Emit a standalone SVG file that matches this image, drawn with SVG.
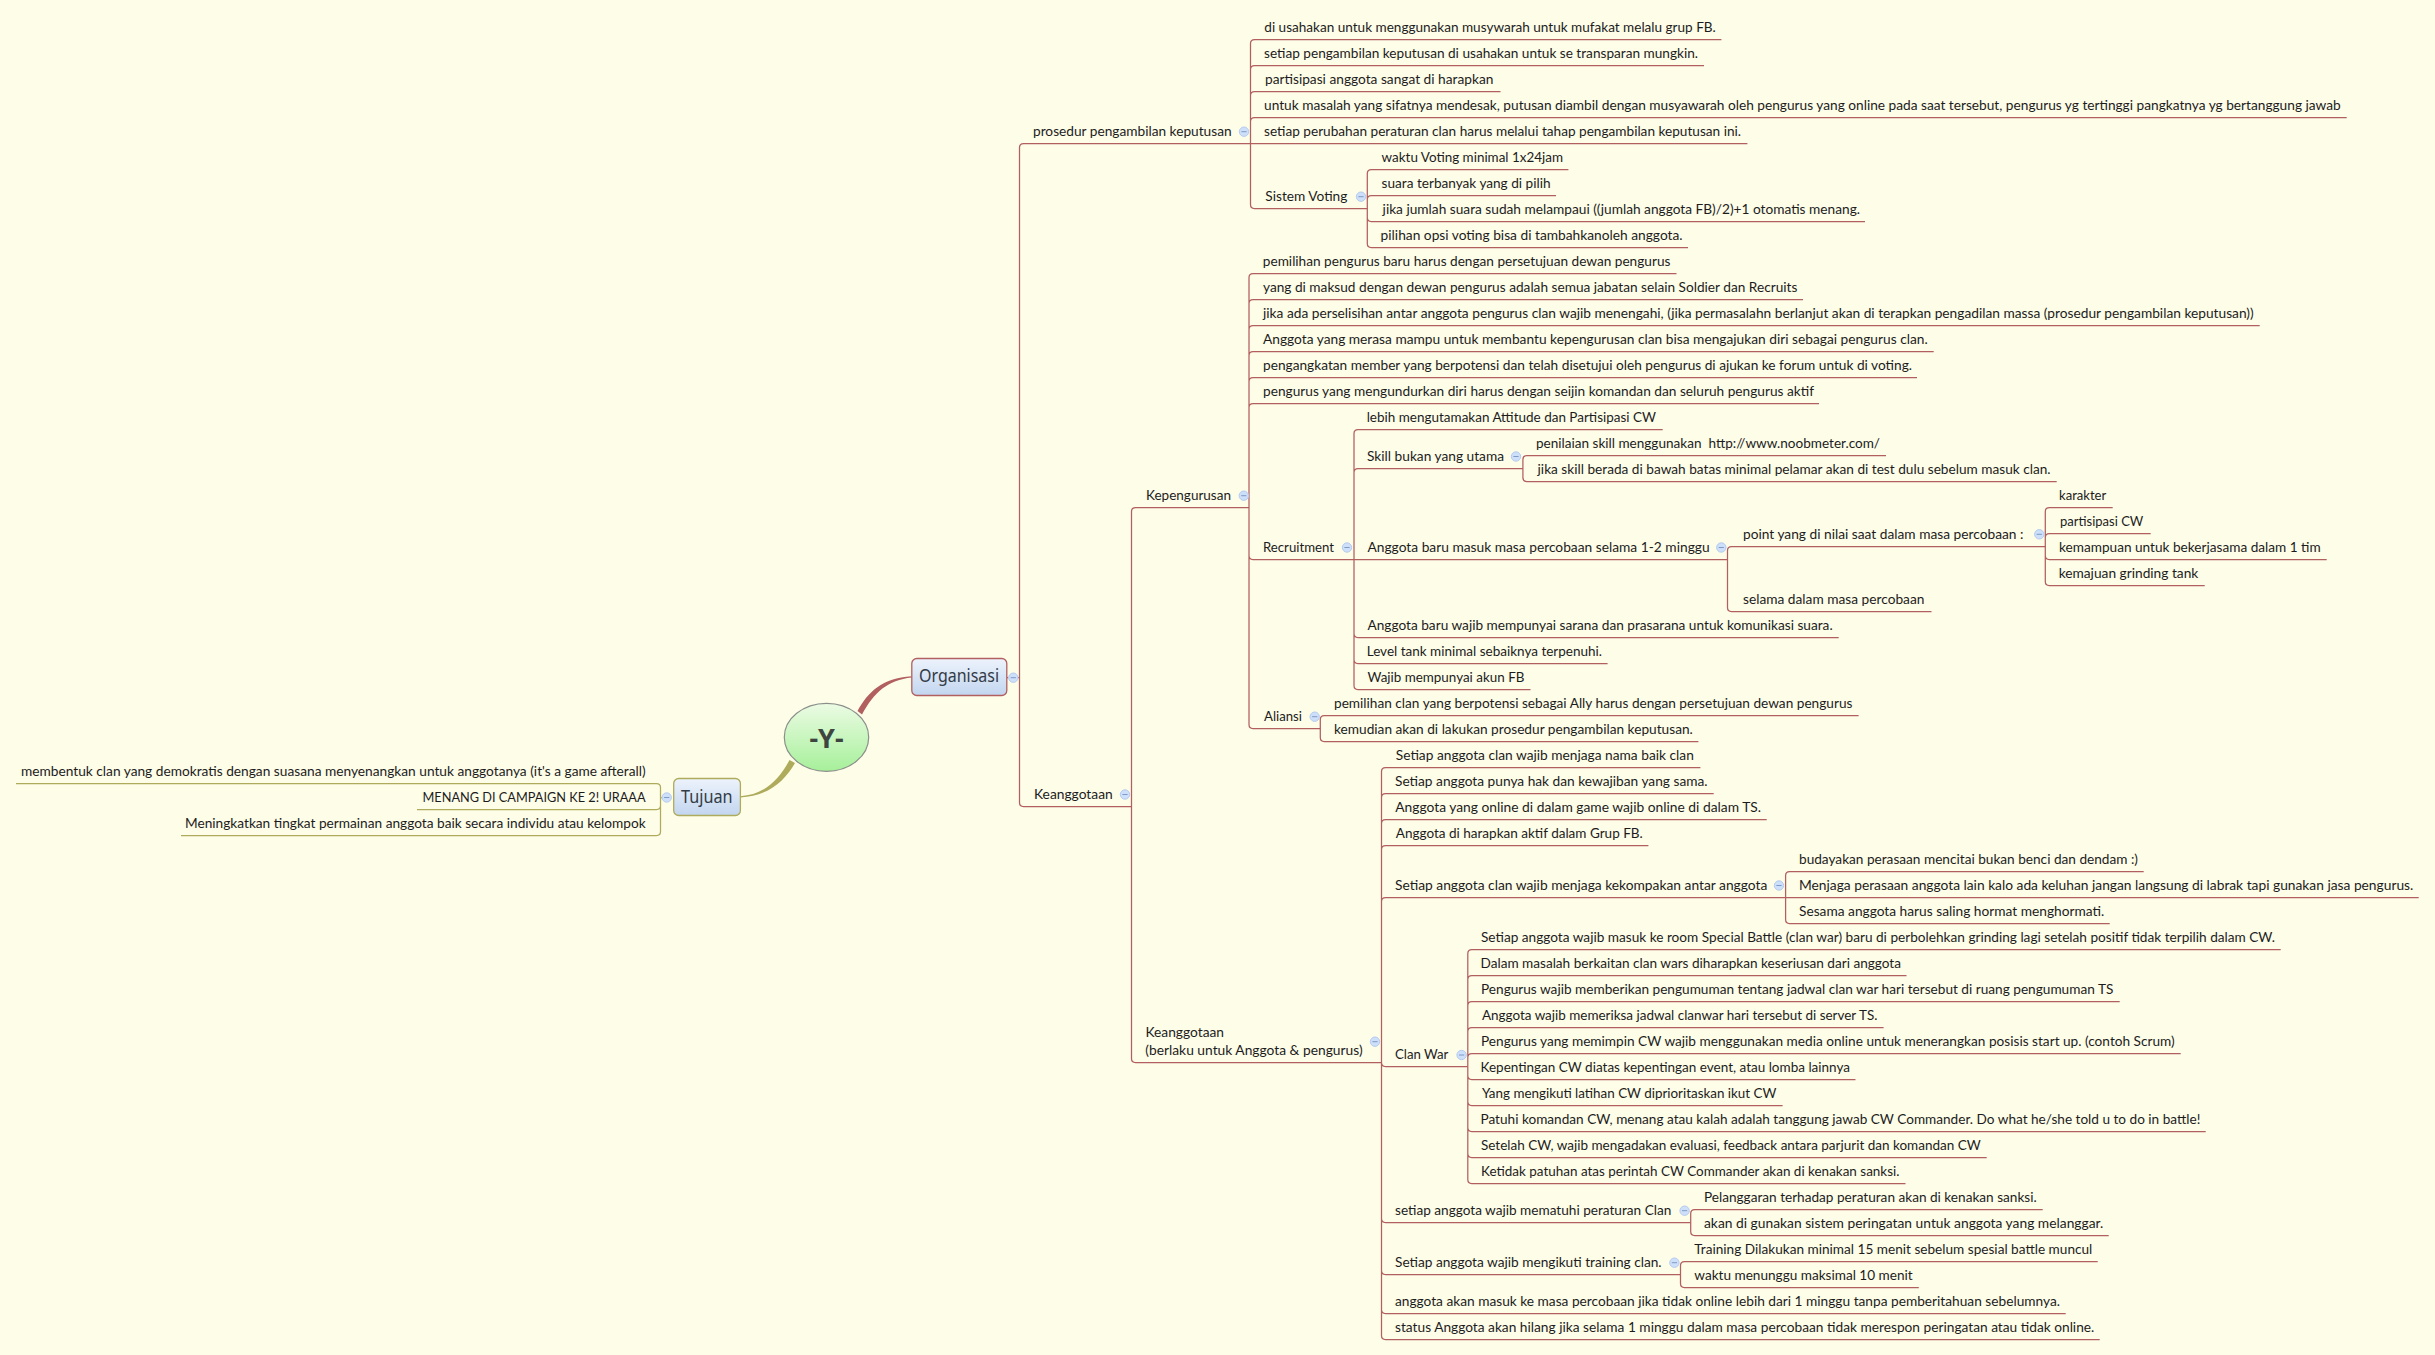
<svg xmlns="http://www.w3.org/2000/svg" width="2435" height="1355" viewBox="0 0 2435 1355">
<style>
text{font-family:Lato,"Noto Sans","Open Sans","Liberation Sans",sans-serif;font-size:13.3px;fill:#1c1c1c;white-space:pre;transform:translateY(.7px)}
.box{stroke-width:1.3}
.h{font-family:"Noto Sans",sans-serif;font-size:18px;fill:#333b45;transform:none}
.root{font-family:"Noto Sans",sans-serif;font-size:27px;font-weight:700;fill:#3e4540;transform:none}
.br{fill:none;stroke:#b25f5f;stroke-width:1.25}
.ol{fill:none;stroke:#aeab5c;stroke-width:1.25}
</style>
<defs>
<linearGradient id="gb" x1="0" y1="0" x2="0" y2="1"><stop offset="0" stop-color="#edf3fc"/><stop offset="1" stop-color="#c2d5ef"/></linearGradient>
<linearGradient id="gg" x1="0" y1="0" x2="0" y2="1"><stop offset="0" stop-color="#ecfbe4"/><stop offset="1" stop-color="#a6f09a"/></linearGradient>
<g id="t"><circle r="4.7" fill="#cddff9" stroke="#b4ccef" stroke-width="1"/><path d="M-2.6,0H2.6" stroke="#7f9ac4" stroke-width="1"/></g>
</defs>
<rect width="2435" height="1355" fill="#fefde8"/>
<g id="connectors">
<path fill="#b25f5f" d="M857.5,711C868,692 882,678 911.7,676.2L911.7,677.4C888,680 874,692 862,714.5Z"/>
<path fill="#aeab5c" d="M789.5,760C780,778 765,795 740.4,796.2L740.4,797.4C768,796 784,782 795,763Z"/>
<path class="ol" d="M660.5,787.5V831.5M656.5,783.5Q660.5,783.5 660.5,787.5M656.5,783.5H16M656.5,809.5Q660.5,809.5 660.5,805.5M656.5,809.5H417M656.5,835.5Q660.5,835.5 660.5,831.5M656.5,835.5H181M661,797.5H663"/>
<path class="br" d="M1007,677.5H1008M1018,677.5H1019.5M1019.5,147.5V802.5M1019.5,147.5Q1019.5,143.5 1023.5,143.5H1250.5M1019.5,802.5Q1019.5,806.5 1023.5,806.5H1131.5"/>
<path class="br" d="M1250.5,43.5V204.5M1250.5,43.5Q1250.5,39.5 1254.5,39.5H1721.4M1250.5,69.5Q1250.5,65.5 1254.5,65.5H1704M1250.5,95.5Q1250.5,91.5 1254.5,91.5H1500.5M1250.5,121.5Q1250.5,117.5 1254.5,117.5H2346.7M1250.5,143.5H1747.4M1250.5,204.5Q1250.5,208.5 1254.5,208.5H1367.3"/>
<path class="br" d="M1367.3,173.5V243.5M1367.3,173.5Q1367.3,169.5 1371.3,169.5H1568.4M1367.3,199.5Q1367.3,195.5 1371.3,195.5H1556M1367.3,217.5Q1367.3,221.5 1371.3,221.5H1865M1367.3,243.5Q1367.3,247.5 1371.3,247.5H1688"/>
<path class="br" d="M1131.5,511.5V1058.5M1131.5,511.5Q1131.5,507.5 1135.5,507.5H1249M1131.5,1058.5Q1131.5,1062.5 1135.5,1062.5H1381.5"/>
<path class="br" d="M1249,277.5V724.5M1249,277.5Q1249,273.5 1253,273.5H1676.5M1249,303.5Q1249,299.5 1253,299.5H1803M1249,329.5Q1249,325.5 1253,325.5H2259.7M1249,355.5Q1249,351.5 1253,351.5H1933.7M1249,381.5Q1249,377.5 1253,377.5H1917M1249,407.5Q1249,403.5 1253,403.5H1819M1249,555.5Q1249,559.5 1253,559.5H1727.5M1249,724.5Q1249,728.5 1253,728.5H1320.3"/>
<path class="br" d="M1354,433.5V685.5M1354,433.5Q1354,429.5 1358,429.5H1662.7M1354,472.5Q1354,468.5 1358,468.5H1522.9M1354,633.5Q1354,637.5 1358,637.5H1838.7M1354,659.5Q1354,663.5 1358,663.5H1607.6M1354,685.5Q1354,689.5 1358,689.5H1530.5"/>
<path class="br" d="M1522.9,459.5V477.5M1522.9,459.5Q1522.9,455.5 1526.9,455.5H1886M1522.9,477.5Q1522.9,481.5 1526.9,481.5H2056.7"/>
<path class="br" d="M1727.5,550.5V607.5M1727.5,550.5Q1727.5,546.5 1731.5,546.5H2045.3M1727.5,607.5Q1727.5,611.5 1731.5,611.5H1931.5"/>
<path class="br" d="M2045.3,511.5V581.5M2045.3,511.5Q2045.3,507.5 2049.3,507.5H2112.7M2045.3,537.5Q2045.3,533.5 2049.3,533.5H2150.7M2045.3,555.5Q2045.3,559.5 2049.3,559.5H2326.7M2045.3,581.5Q2045.3,585.5 2049.3,585.5H2204.7"/>
<path class="br" d="M1320.3,719.5V737.5M1320.3,719.5Q1320.3,715.5 1324.3,715.5H1858.6M1320.3,737.5Q1320.3,741.5 1324.3,741.5H1698.4"/>
<path class="br" d="M1381.5,771.5V1335.5M1381.5,771.5Q1381.5,767.5 1385.5,767.5H1700.4M1381.5,797.5Q1381.5,793.5 1385.5,793.5H1713.7M1381.5,823.5Q1381.5,819.5 1385.5,819.5H1766.7M1381.5,849.5Q1381.5,845.5 1385.5,845.5H1648.4M1381.5,901.5Q1381.5,897.5 1385.5,897.5H1785.6M1381.5,1062.5Q1381.5,1066.5 1385.5,1066.5H1467.8M1381.5,1218.5Q1381.5,1222.5 1385.5,1222.5H1690.7M1381.5,1270.5Q1381.5,1274.5 1385.5,1274.5H1680.5M1381.5,1309.5Q1381.5,1313.5 1385.5,1313.5H2065.7M1381.5,1335.5Q1381.5,1339.5 1385.5,1339.5H2099.7"/>
<path class="br" d="M1785.6,875.5V919.5M1785.6,875.5Q1785.6,871.5 1789.6,871.5H2143.7M1785.6,897.5H2418.7M1785.6,919.5Q1785.6,923.5 1789.6,923.5H2109.7"/>
<path class="br" d="M1467.8,953.5V1179.5M1467.8,953.5Q1467.8,949.5 1471.8,949.5H2280.7M1467.8,979.5Q1467.8,975.5 1471.8,975.5H1906.5M1467.8,1005.5Q1467.8,1001.5 1471.8,1001.5H2119.7M1467.8,1031.5Q1467.8,1027.5 1471.8,1027.5H1883.6M1467.8,1057.5Q1467.8,1053.5 1471.8,1053.5H2180.7M1467.8,1075.5Q1467.8,1079.5 1471.8,1079.5H1855.5M1467.8,1101.5Q1467.8,1105.5 1471.8,1105.5H1782.6M1467.8,1127.5Q1467.8,1131.5 1471.8,1131.5H2205.7M1467.8,1153.5Q1467.8,1157.5 1471.8,1157.5H1986.7M1467.8,1179.5Q1467.8,1183.5 1471.8,1183.5H1905.5"/>
<path class="br" d="M1690.7,1213.5V1231.5M1690.7,1213.5Q1690.7,1209.5 1694.7,1209.5H2042.7M1690.7,1231.5Q1690.7,1235.5 1694.7,1235.5H2108.7"/>
<path class="br" d="M1680.5,1265.5V1283.5M1680.5,1265.5Q1680.5,1261.5 1684.5,1261.5H2097.7M1680.5,1283.5Q1680.5,1287.5 1684.5,1287.5H1918.8"/>
</g>
<g id="root"><ellipse cx="826.5" cy="737.3" rx="42.2" ry="34" fill="url(#gg)" stroke="#8b8f8b" stroke-width="1.2"/><text class="root" x="826.5" y="747.5" text-anchor="middle">-Y-</text></g>
<g id="organisasi"><rect class="box" x="911.8" y="658.5" width="95" height="37" rx="5" fill="url(#gb)" stroke="#b25f5f"/><text class="h" x="919" y="682" textLength="80" lengthAdjust="spacingAndGlyphs">Organisasi</text><use href="#t" x="1013.3" y="677.7"/></g>
<g id="tujuan"><rect class="box" x="673.7" y="778.5" width="66.7" height="37" rx="5" fill="url(#gb)" stroke="#aeab5c"/><text class="h" x="681" y="803" textLength="51.6" lengthAdjust="spacingAndGlyphs">Tujuan</text><use href="#t" x="666.7" y="797.5"/></g>
<g id="tj1"><text x="21" y="775.5" textLength="624.6" lengthAdjust="spacingAndGlyphs">membentuk clan yang demokratis dengan suasana menyenangkan untuk anggotanya (it's a game afterall)</text></g>
<g id="tj2"><text x="422.5" y="801.5" textLength="223.1" lengthAdjust="spacingAndGlyphs">MENANG DI CAMPAIGN KE 2! URAAA</text></g>
<g id="tj3"><text x="185" y="827.5" textLength="460.6" lengthAdjust="spacingAndGlyphs">Meningkatkan tingkat permainan anggota baik secara individu atau kelompok</text></g>
<g id="prosedur"><text x="1033" y="135.5" textLength="198.6" lengthAdjust="spacingAndGlyphs">prosedur pengambilan keputusan</text><use href="#t" x="1244" y="131.7"/></g>
<g id="p1"><text x="1264.3" y="31.5" textLength="451.5" lengthAdjust="spacingAndGlyphs">di usahakan untuk menggunakan musywarah untuk mufakat melalu grup FB.</text></g>
<g id="p2"><text x="1264" y="57.5" textLength="434" lengthAdjust="spacingAndGlyphs">setiap pengambilan keputusan di usahakan untuk se transparan mungkin.</text></g>
<g id="p3"><text x="1265" y="83.5" textLength="228.4" lengthAdjust="spacingAndGlyphs">partisipasi anggota sangat di harapkan</text></g>
<g id="p4"><text x="1264" y="109.5" textLength="1076.7" lengthAdjust="spacingAndGlyphs">untuk masalah yang sifatnya mendesak, putusan diambil dengan musyawarah oleh pengurus yang online pada saat tersebut, pengurus yg tertinggi pangkatnya yg bertanggung jawab</text></g>
<g id="p5"><text x="1264" y="135.5" textLength="477" lengthAdjust="spacingAndGlyphs">setiap perubahan peraturan clan harus melalui tahap pengambilan keputusan ini.</text></g>
<g id="voting"><text x="1265.3" y="200.5" textLength="82.1" lengthAdjust="spacingAndGlyphs">Sistem Voting</text><use href="#t" x="1361" y="196.7"/></g>
<g id="v1"><text x="1381.6" y="161.5" textLength="181.4" lengthAdjust="spacingAndGlyphs">waktu Voting minimal 1x24jam</text></g>
<g id="v2"><text x="1381.6" y="187.5" textLength="168.9" lengthAdjust="spacingAndGlyphs">suara terbanyak yang di pilih</text></g>
<g id="v3"><text x="1382.6" y="213.5" textLength="477.4" lengthAdjust="spacingAndGlyphs">jika jumlah suara sudah melampaui ((jumlah anggota FB)/2)+1 otomatis menang.</text></g>
<g id="v4"><text x="1380.6" y="239.5" textLength="302" lengthAdjust="spacingAndGlyphs">pilihan opsi voting bisa di tambahkanoleh anggota.</text></g>
<g id="keanggotaan"><text x="1034" y="798.5" textLength="78.7" lengthAdjust="spacingAndGlyphs">Keanggotaan</text><use href="#t" x="1125" y="794.5"/></g>
<g id="kepengurusan"><text x="1146" y="499.5" textLength="85" lengthAdjust="spacingAndGlyphs">Kepengurusan</text><use href="#t" x="1243.8" y="495.7"/></g>
<g id="k1"><text x="1262.8" y="265.5" textLength="407.6" lengthAdjust="spacingAndGlyphs">pemilihan pengurus baru harus dengan persetujuan dewan pengurus</text></g>
<g id="k2"><text x="1263" y="291.5" textLength="534.4" lengthAdjust="spacingAndGlyphs">yang di maksud dengan dewan pengurus adalah semua jabatan selain Soldier dan Recruits</text></g>
<g id="k3"><text x="1263" y="317.5" textLength="990.7" lengthAdjust="spacingAndGlyphs">jika ada perselisihan antar anggota pengurus clan wajib menengahi, (jika permasalahn berlanjut akan di terapkan pengadilan massa (prosedur pengambilan keputusan))</text></g>
<g id="k4"><text x="1263" y="343.5" textLength="664.7" lengthAdjust="spacingAndGlyphs">Anggota yang merasa mampu untuk membantu kepengurusan clan bisa mengajukan diri sebagai pengurus clan.</text></g>
<g id="k5"><text x="1263" y="369.5" textLength="649" lengthAdjust="spacingAndGlyphs">pengangkatan member yang berpotensi dan telah disetujui oleh pengurus di ajukan ke forum untuk di voting.</text></g>
<g id="k6"><text x="1263" y="395.5" textLength="551" lengthAdjust="spacingAndGlyphs">pengurus yang mengundurkan diri harus dengan seijin komandan dan seluruh pengurus aktif</text></g>
<g id="recruitment"><text x="1263" y="551.5" textLength="71" lengthAdjust="spacingAndGlyphs">Recruitment</text><use href="#t" x="1347" y="547.5"/></g>
<g id="r1"><text x="1366.7" y="421.5" textLength="289.3" lengthAdjust="spacingAndGlyphs">lebih mengutamakan Attitude dan Partisipasi CW</text></g>
<g id="skill"><text x="1367" y="460.5" textLength="137" lengthAdjust="spacingAndGlyphs">Skill bukan yang utama</text><use href="#t" x="1516" y="456.5"/></g>
<g id="s1"><text x="1536" y="447.5" textLength="344" lengthAdjust="spacingAndGlyphs">penilaian skill menggunakan  http://www.noobmeter.com/</text></g>
<g id="s2"><text x="1537.6" y="473.5" textLength="513" lengthAdjust="spacingAndGlyphs">jika skill berada di bawah batas minimal pelamar akan di test dulu sebelum masuk clan.</text></g>
<g id="masuk"><text x="1367.5" y="551.5" textLength="342.1" lengthAdjust="spacingAndGlyphs">Anggota baru masuk masa percobaan selama 1-2 minggu</text><use href="#t" x="1721.3" y="547.5"/></g>
<g id="point"><text x="1743" y="538.5" textLength="280.4" lengthAdjust="spacingAndGlyphs">point yang di nilai saat dalam masa percobaan :</text><use href="#t" x="2039.3" y="534.3"/></g>
<g id="pt1"><text x="2059" y="499.5" textLength="47.3" lengthAdjust="spacingAndGlyphs">karakter</text></g>
<g id="pt2"><text x="2060" y="525.5" textLength="83.3" lengthAdjust="spacingAndGlyphs">partisipasi CW</text></g>
<g id="pt3"><text x="2059" y="551.5" textLength="261.7" lengthAdjust="spacingAndGlyphs">kemampuan untuk bekerjasama dalam 1 tim</text></g>
<g id="pt4"><text x="2058.7" y="577.5" textLength="139.6" lengthAdjust="spacingAndGlyphs">kemajuan grinding tank</text></g>
<g id="selama"><text x="1743" y="603.5" textLength="181.4" lengthAdjust="spacingAndGlyphs">selama dalam masa percobaan</text></g>
<g id="r3"><text x="1367.5" y="629.5" textLength="465.1" lengthAdjust="spacingAndGlyphs">Anggota baru wajib mempunyai sarana dan prasarana untuk komunikasi suara.</text></g>
<g id="r4"><text x="1366.7" y="655.5" textLength="235.3" lengthAdjust="spacingAndGlyphs">Level tank minimal sebaiknya terpenuhi.</text></g>
<g id="r5"><text x="1367.5" y="681.5" textLength="156.9" lengthAdjust="spacingAndGlyphs">Wajib mempunyai akun FB</text></g>
<g id="aliansi"><text x="1264" y="720.5" textLength="38" lengthAdjust="spacingAndGlyphs">Aliansi</text><use href="#t" x="1314.7" y="716.7"/></g>
<g id="a1"><text x="1334" y="707.5" textLength="518.4" lengthAdjust="spacingAndGlyphs">pemilihan clan yang berpotensi sebagai Ally harus dengan persetujuan dewan pengurus</text></g>
<g id="a2"><text x="1334" y="733.5" textLength="358.8" lengthAdjust="spacingAndGlyphs">kemudian akan di lakukan prosedur pengambilan keputusan.</text></g>
<g id="berlaku"><text x="1145.5" y="1036.5" textLength="78.5" lengthAdjust="spacingAndGlyphs">Keanggotaan</text><text x="1145.3" y="1054.5" textLength="217.3" lengthAdjust="spacingAndGlyphs">(berlaku untuk Anggota &amp; pengurus)</text><use href="#t" x="1375" y="1041.7"/></g>
<g id="b1"><text x="1395.8" y="759.5" textLength="298" lengthAdjust="spacingAndGlyphs">Setiap anggota clan wajib menjaga nama baik clan</text></g>
<g id="b2"><text x="1395" y="785.5" textLength="312.6" lengthAdjust="spacingAndGlyphs">Setiap anggota punya hak dan kewajiban yang sama.</text></g>
<g id="b3"><text x="1395.3" y="811.5" textLength="365.7" lengthAdjust="spacingAndGlyphs">Anggota yang online di dalam game wajib online di dalam TS.</text></g>
<g id="b4"><text x="1395.8" y="837.5" textLength="247" lengthAdjust="spacingAndGlyphs">Anggota di harapkan aktif dalam Grup FB.</text></g>
<g id="kompak"><text x="1395" y="889.5" textLength="372.3" lengthAdjust="spacingAndGlyphs">Setiap anggota clan wajib menjaga kekompakan antar anggota</text><use href="#t" x="1779" y="885.5"/></g>
<g id="c1"><text x="1799" y="863.5" textLength="339" lengthAdjust="spacingAndGlyphs">budayakan perasaan mencitai bukan benci dan dendam :)</text></g>
<g id="c2"><text x="1799" y="889.5" textLength="614.3" lengthAdjust="spacingAndGlyphs">Menjaga perasaan anggota lain kalo ada keluhan jangan langsung di labrak tapi gunakan jasa pengurus.</text></g>
<g id="c3"><text x="1799" y="915.5" textLength="305.3" lengthAdjust="spacingAndGlyphs">Sesama anggota harus saling hormat menghormati.</text></g>
<g id="clanwar"><text x="1395" y="1058.5" textLength="53.4" lengthAdjust="spacingAndGlyphs">Clan War</text><use href="#t" x="1461.6" y="1055"/></g>
<g id="w1"><text x="1481" y="941.5" textLength="794" lengthAdjust="spacingAndGlyphs">Setiap anggota wajib masuk ke room Special Battle (clan war) baru di perbolehkan grinding lagi setelah positif tidak terpilih dalam CW.</text></g>
<g id="w2"><text x="1480.5" y="967.5" textLength="420.5" lengthAdjust="spacingAndGlyphs">Dalam masalah berkaitan clan wars diharapkan keseriusan dari anggota</text></g>
<g id="w3"><text x="1481" y="993.5" textLength="632.3" lengthAdjust="spacingAndGlyphs">Pengurus wajib memberikan pengumuman tentang jadwal clan war hari tersebut di ruang pengumuman TS</text></g>
<g id="w4"><text x="1482" y="1019.5" textLength="395.4" lengthAdjust="spacingAndGlyphs">Anggota wajib memeriksa jadwal clanwar hari tersebut di server TS.</text></g>
<g id="w5"><text x="1481" y="1045.5" textLength="693.7" lengthAdjust="spacingAndGlyphs">Pengurus yang memimpin CW wajib menggunakan media online untuk menerangkan posisis start up. (contoh Scrum)</text></g>
<g id="w6"><text x="1480.5" y="1071.5" textLength="369.5" lengthAdjust="spacingAndGlyphs">Kepentingan CW diatas kepentingan event, atau lomba lainnya</text></g>
<g id="w7"><text x="1482" y="1097.5" textLength="294.4" lengthAdjust="spacingAndGlyphs">Yang mengikuti latihan CW diprioritaskan ikut CW</text></g>
<g id="w8"><text x="1480.5" y="1123.5" textLength="719.8" lengthAdjust="spacingAndGlyphs">Patuhi komandan CW, menang atau kalah adalah tanggung jawab CW Commander. Do what he/she told u to do in battle!</text></g>
<g id="w9"><text x="1481" y="1149.5" textLength="499.7" lengthAdjust="spacingAndGlyphs">Setelah CW, wajib mengadakan evaluasi, feedback antara parjurit dan komandan CW</text></g>
<g id="w10"><text x="1481" y="1175.5" textLength="418.4" lengthAdjust="spacingAndGlyphs">Ketidak patuhan atas perintah CW Commander akan di kenakan sanksi.</text></g>
<g id="mematuhi"><text x="1395" y="1214.5" textLength="276.3" lengthAdjust="spacingAndGlyphs">setiap anggota wajib mematuhi peraturan Clan</text><use href="#t" x="1684.6" y="1210.7"/></g>
<g id="m1"><text x="1704" y="1201.5" textLength="332.7" lengthAdjust="spacingAndGlyphs">Pelanggaran terhadap peraturan akan di kenakan sanksi.</text></g>
<g id="m2"><text x="1704" y="1227.5" textLength="399.3" lengthAdjust="spacingAndGlyphs">akan di gunakan sistem peringatan untuk anggota yang melanggar.</text></g>
<g id="training"><text x="1395" y="1266.5" textLength="266.6" lengthAdjust="spacingAndGlyphs">Setiap anggota wajib mengikuti training clan.</text><use href="#t" x="1674.4" y="1262.7"/></g>
<g id="t1"><text x="1694.3" y="1253.5" textLength="398" lengthAdjust="spacingAndGlyphs">Training Dilakukan minimal 15 menit sebelum spesial battle muncul</text></g>
<g id="t2"><text x="1694.3" y="1279.5" textLength="218.4" lengthAdjust="spacingAndGlyphs">waktu menunggu maksimal 10 menit</text></g>
<g id="b9"><text x="1395" y="1305.5" textLength="665" lengthAdjust="spacingAndGlyphs">anggota akan masuk ke masa percobaan jika tidak online lebih dari 1 minggu tanpa pemberitahuan sebelumnya.</text></g>
<g id="b10"><text x="1395" y="1331.5" textLength="699.3" lengthAdjust="spacingAndGlyphs">status Anggota akan hilang jika selama 1 minggu dalam masa percobaan tidak merespon peringatan atau tidak online.</text></g>
</svg>
